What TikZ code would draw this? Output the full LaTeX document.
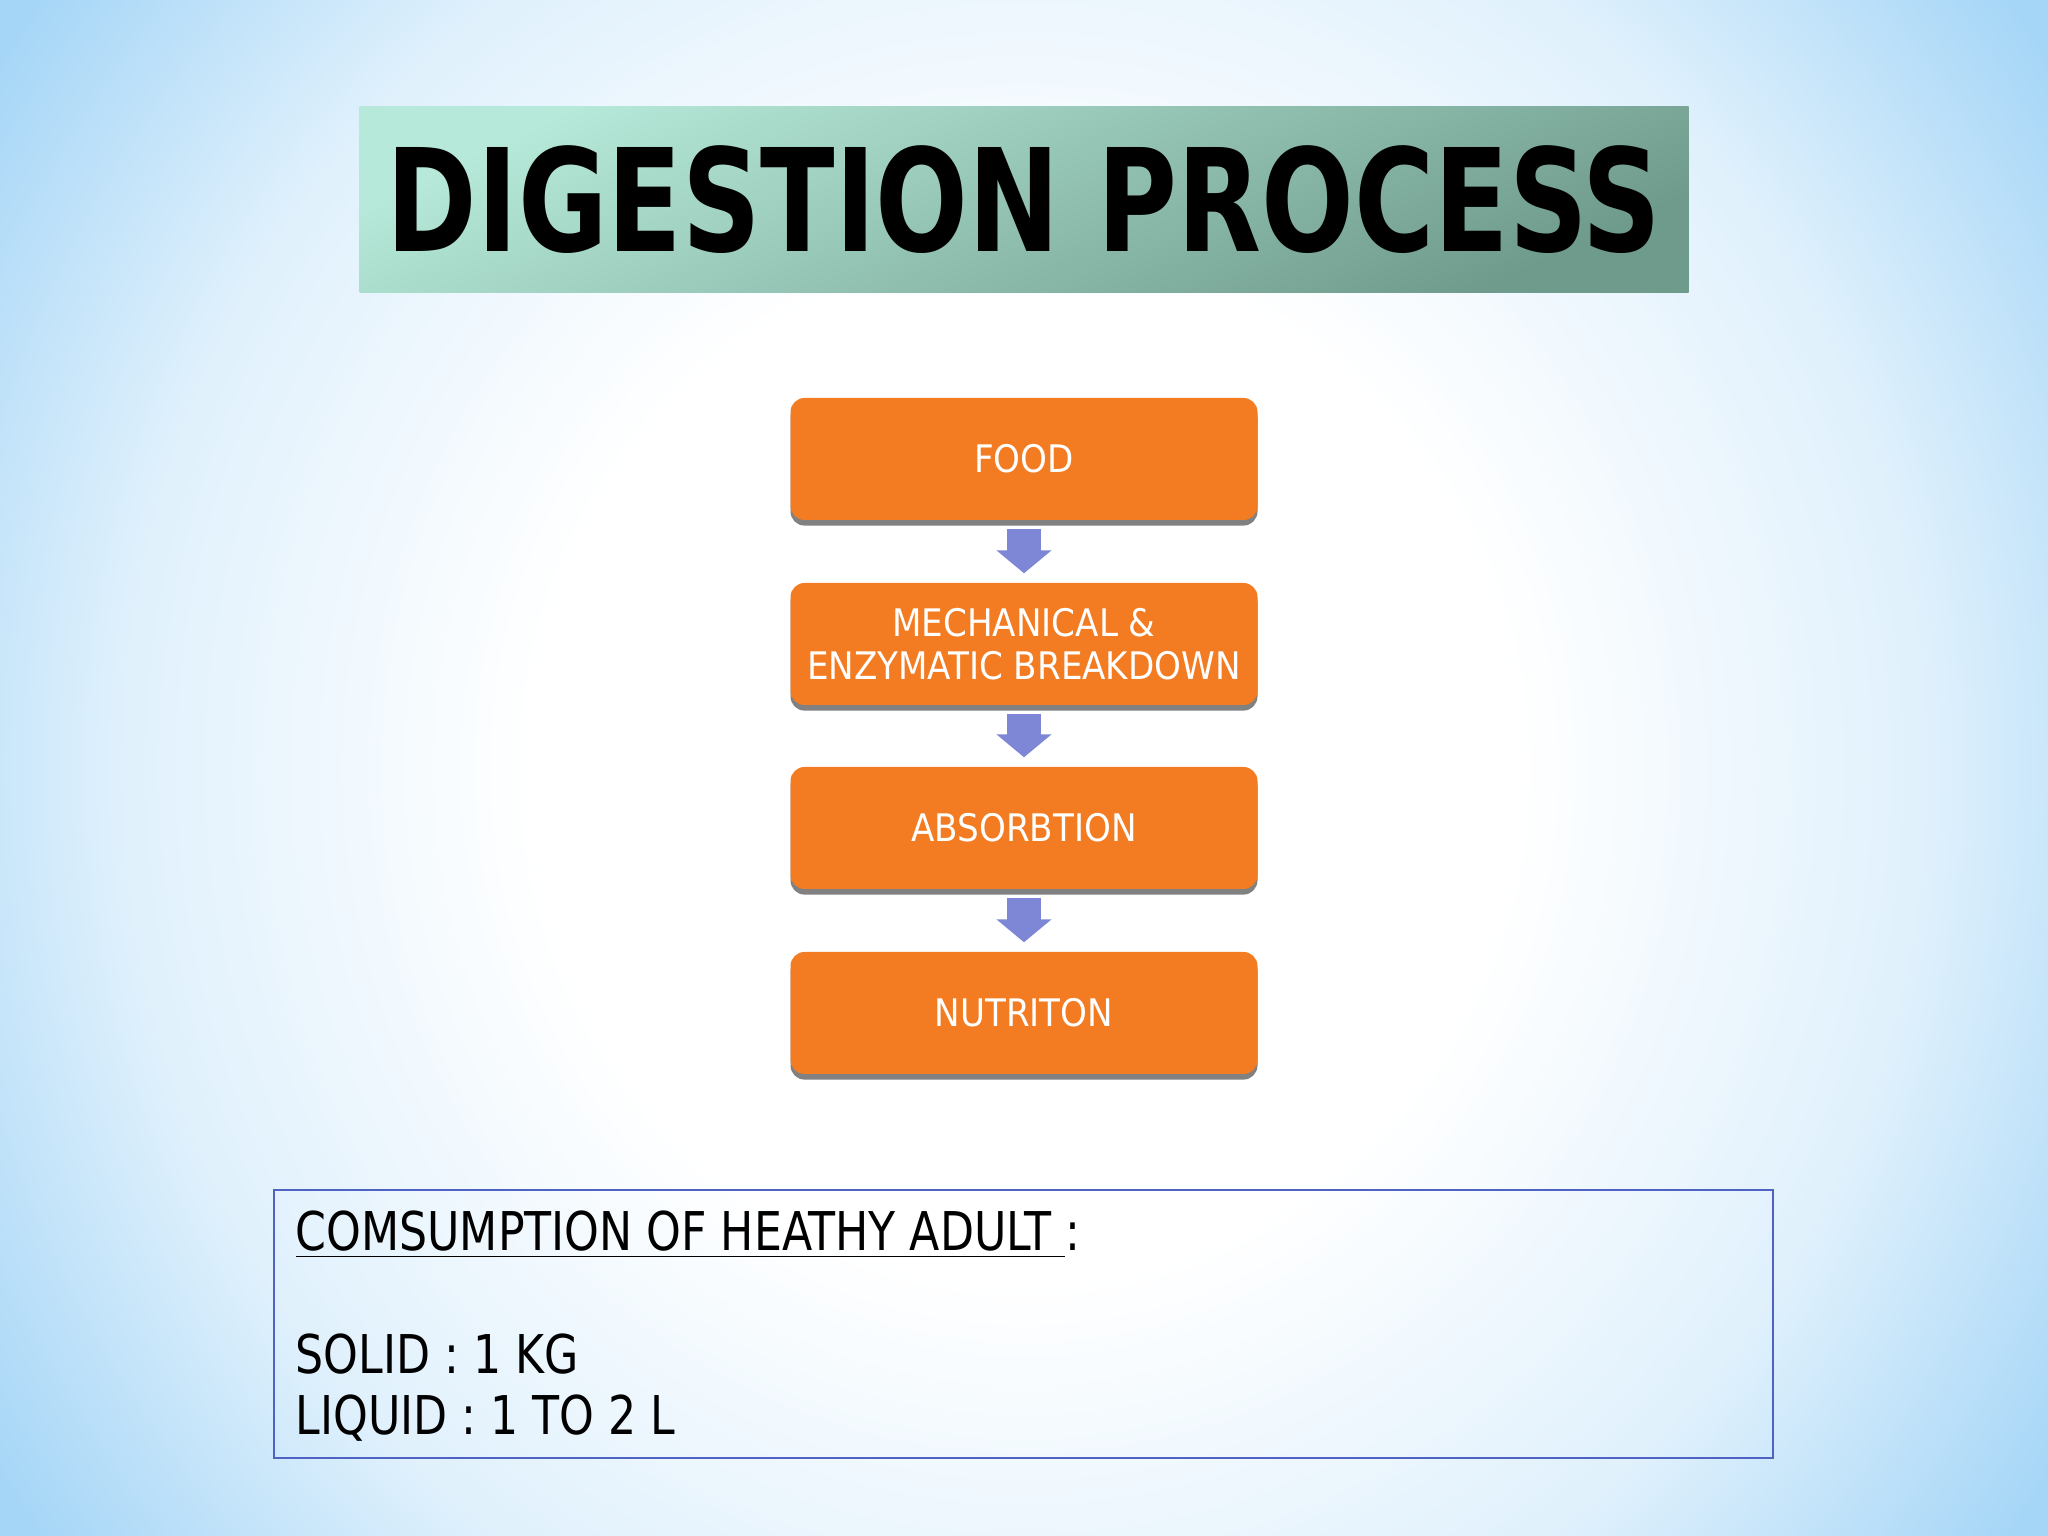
\documentclass[tikz,border=0pt]{standalone}
\usepackage{fontspec}
\setmainfont{DejaVu Sans Condensed}
\usepackage{tikz}
\usetikzlibrary{shadows,arrows.meta,fadings}

\definecolor{slideedge}{HTML}{A6D6F7}
\definecolor{slidecorner}{HTML}{90CAF4}
\definecolor{bannertop}{HTML}{B6E9D9}
\definecolor{bannerbot}{HTML}{6F9B8C}
\definecolor{steporange}{HTML}{F37B21}
\definecolor{arrowblue}{HTML}{7D87D6}
\definecolor{frameblue}{HTML}{4F63C4}

\pgfdeclareradialshading{slidebg}{\pgfpoint{0bp}{0bp}}{%
  color(0bp)=(white); color(12bp)=(white); color(22bp)=(white!65!slideedge);
  color(30bp)=(slideedge); color(50bp)=(slidecorner)}
\tikzfading[name=bandfade, top color=transparent!100,
  middle color=transparent!30, bottom color=transparent!100]

\tikzset{
  banner/.style={rectangle, minimum width=13.29cm, minimum height=1.86cm,
    top color=bannertop, bottom color=bannerbot, shading angle=25},
  stepbox/.style={rectangle, rounded corners=4pt, fill=steporange, text=white,
    minimum width=4.67cm, minimum height=1.22cm, align=center,
    font=\fontsize{10.8}{12.2}\selectfont,
    drop shadow={shadow xshift=0pt, shadow yshift=-1.6pt, opacity=0.7,
      fill=black!70}},
  flow/.style={line width=0.34cm, arrowblue,
    -{Triangle[width=0.54cm,length=0.23cm]},
    shorten <=0.08cm, shorten >=0.09cm},
  intakeline/.style={anchor=base west, inner sep=0pt,
    font=\fontsize{15.2}{17}\selectfont}
}

\begin{document}
\begin{tikzpicture}
  % slide background
  \begin{scope}
    \clip (0,0) rectangle (20.48,15.36);
    \shade[shading=slidebg] (0,-3) rectangle (20.48,18.36);
    \fill[white, path fading=bandfade] (0,3.4) rectangle (20.48,4.9);
  \end{scope}
  \useasboundingbox (0,0) rectangle (20.48,15.36);

  \node[banner] (title) at (10.24,13.36)
    {\scalebox{0.85}[1]{\fontsize{40.6}{41}\selectfont\bfseries DIGESTION PROCESS}};

  \node[stepbox] (food) at (10.24,10.77) {FOOD};
  \node[stepbox] (breakdown) at (10.24,8.92) {MECHANICAL \&\\ENZYMATIC BREAKDOWN};
  \node[stepbox] (absorbtion) at (10.24,7.08) {ABSORBTION};
  \node[stepbox] (nutriton) at (10.24,5.23) {NUTRITON};

  \draw[flow] (food) -- (breakdown);
  \draw[flow] (breakdown) -- (absorbtion);
  \draw[flow] (absorbtion) -- (nutriton);

  \node[draw=frameblue, line width=0.7pt, minimum width=14.99cm,
    minimum height=2.68cm] (intake) at (10.235,2.12) {};
  \node[intakeline] (intakehead) at (2.95,2.85)
    {\scalebox{0.92}[1]{\underline{COMSUMPTION OF HEATHY ADULT\ }:}};
  \node[intakeline] (solid) at (2.95,1.62) {\scalebox{0.92}[1]{SOLID : 1 KG}};
  \node[intakeline] (liquid) at (2.95,1.01) {\scalebox{0.92}[1]{LIQUID : 1 TO 2 L}};
\end{tikzpicture}
\end{document}
